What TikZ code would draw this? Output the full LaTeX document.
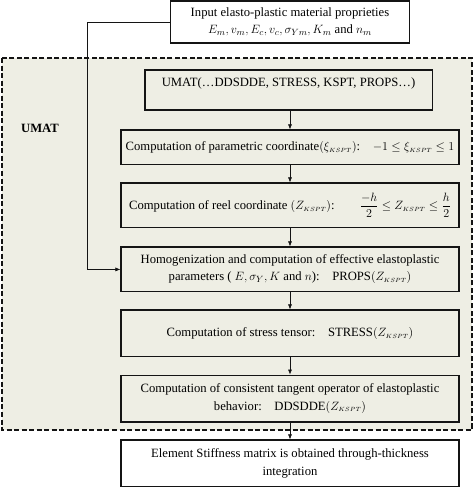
\documentclass[tikz,border=0pt]{standalone}
\usepackage{amsmath,amssymb,xcolor}
\usepackage{fontspec}
\setmainfont{Liberation Serif}
\definecolor{umbeige}{RGB}{238,238,228}
\definecolor{umblack}{RGB}{20,20,20}
\newcommand{\kspt}{{\scriptscriptstyle KSPT}}
\usepackage{tikz}
\usetikzlibrary{arrows.meta,positioning,calc}

\begin{document}
\begin{tikzpicture}[
    stepbox/.style={draw=umblack,line width=1.1pt,fill=umbeige,align=center,
        minimum width=11.83cm,font=\fontsize{12.6}{17}\selectfont},
    endbox/.style={stepbox,fill=white},
    flow/.style={-{Latex[length=5pt,width=4pt]},line width=0.6pt,draw=umblack}]
  \useasboundingbox (-10.15,0) rectangle (6.44,-17.115);
  % UMAT region
  \draw[umblack,fill=umbeige,line width=1.5pt,dash pattern=on 5pt off 2.5pt]
        (-10.08,-2.03) rectangle (6.37,-15.05);
  \node[font=\fontsize{12.6}{17}\selectfont\bfseries] (umat) at (-8.75,-4.48) {UMAT};
  % boxes
  \node[endbox,minimum width=8.37cm,minimum height=1.47cm] (input) at (0,-0.77)
        {Input elasto-plastic material proprieties\\
         $E_m, v_m, E_c, v_c, \sigma_{Ym}, K_m$ and $n_m$};
  \node[stepbox,minimum width=10.05cm,minimum height=1.4cm,text height=9pt,text depth=15pt]
        (call) at (-0.05,-3.15)
        {UMAT(\dots DDSDDE, STRESS, KSPT, PROPS\dots)};
  \node[stepbox,minimum height=1.22cm] (xi) at (0,-5.16)
        {Computation of parametric coordinate$\left(\xi_\kspt\right)$:\quad $-1\le \xi_\kspt\le 1$};
  \node[stepbox,minimum height=1.57cm] (zeta) at (0,-7.19)
        {Computation of reel coordinate $\left(Z_\kspt\right)$:\qquad $\dfrac{-h}{2}\le Z_\kspt\le \dfrac{h}{2}$};
  \node[stepbox,minimum height=1.57cm] (props) at (0,-9.43)
        {Homogenization and computation of effective elastoplastic\\
         parameters ( $E, \sigma_Y, K$ and $n$):\quad PROPS$\left(Z_\kspt\right)$};
  \node[stepbox,minimum height=1.64cm] (stress) at (0,-11.67)
        {Computation of stress tensor:\quad STRESS$\left(Z_\kspt\right)$};
  \node[stepbox,minimum height=1.64cm] (ddsdde) at (0,-13.95)
        {Computation of consistent tangent operator of elastoplastic\\
         behavior:\quad DDSDDE$\left(Z_\kspt\right)$};
  \node[endbox,minimum height=1.64cm] (stiff) at (0,-16.22)
        {Element Stiffness matrix is obtained through-thickness\\ integration};
  % connectors
  \coordinate (bend) at (-7.1,0);
  \draw[flow] (input.west) -| (bend |- props.west) -- (props.west);
  \draw[flow] (call.south -| xi.north) -- (xi.north);
  \draw[flow] (xi) -- (zeta);
  \draw[flow] (zeta) -- (props);
  \draw[flow] (props) -- (stress);
  \draw[flow] (stress) -- (ddsdde);
  \draw[flow] (ddsdde) -- (stiff);
\end{tikzpicture}
\end{document}
